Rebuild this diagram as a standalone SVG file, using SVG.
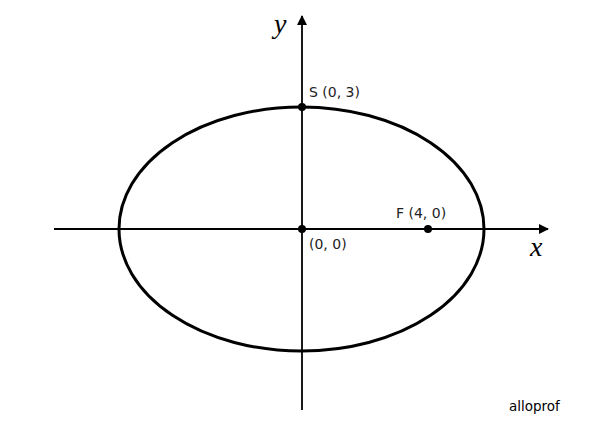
<svg xmlns="http://www.w3.org/2000/svg" width="600" height="430" viewBox="0 0 600 430">
<style>
.ax{stroke:#000;stroke-width:1.8;fill:none}
.lbl{font-family:"DejaVu Sans","Liberation Sans",sans-serif;font-size:14px;fill:#222}
.var{font-family:"Liberation Serif","DejaVu Serif",serif;font-style:italic;font-size:28px;fill:#000}
.dot{fill:#000}
</style>
<defs>
<marker id="arr" markerWidth="10" markerHeight="10" refX="9" refY="5" orient="auto" markerUnits="userSpaceOnUse">
<path d="M0,0 L10,5 L0,10 Z" fill="#000"/>
</marker>
</defs>
<rect width="600" height="430" fill="#fff"/>
<g id="connectors">
<line class="ax" x1="54" y1="229" x2="548" y2="229" marker-end="url(#arr)"/>
<line class="ax" x1="302" y1="410" x2="302" y2="16" marker-end="url(#arr)"/>
</g>
<g id="ellipse">
<ellipse cx="301.5" cy="229" rx="182.5" ry="122" fill="none" stroke="#000" stroke-width="3"/>
</g>
<g id="axis-labels">
<text class="var" x="274" y="33">y</text>
<text class="var" x="530" y="256">x</text>
</g>
<g id="S">
<circle class="dot" cx="302" cy="107" r="4"/>
<text class="lbl" x="309" y="97">S (0, 3)</text>
</g>
<g id="O">
<circle class="dot" cx="302" cy="229" r="4"/>
<text class="lbl" x="309" y="249">(0, 0)</text>
</g>
<g id="F">
<circle class="dot" cx="428" cy="229" r="4"/>
<text class="lbl" x="396" y="218">F (4, 0)</text>
</g>
<text x="509" y="411" font-family="'DejaVu Sans','Liberation Sans',sans-serif" font-size="13.5" fill="#000">alloprof</text>
</svg>
